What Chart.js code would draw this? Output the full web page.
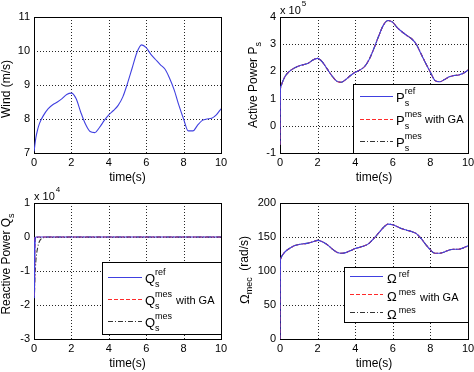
<!DOCTYPE html>
<html>
<head>
<meta charset="utf-8">
<script src="https://cdn.jsdelivr.net/npm/chart.js@4/dist/chart.umd.min.js"></script>
<style>
  html, body { margin: 0; padding: 0; background: #fff; }
  #wrap { position: relative; width: 474px; height: 372px; overflow: hidden; }
  .cell { position: absolute; width: 237px; height: 186px; }
</style>
</head>
<body>
<div id="wrap">
  <div class="cell" style="left:0;top:0"><canvas id="windChart" width="237" height="186"></canvas></div>
  <div class="cell" style="left:237px;top:0"><canvas id="powerChart" width="237" height="186"></canvas></div>
  <div class="cell" style="left:0;top:186px"><canvas id="reactiveChart" width="237" height="186"></canvas></div>
  <div class="cell" style="left:237px;top:186px"><canvas id="omegaChart" width="237" height="186"></canvas></div>
</div>
<script>
// time samples (s), finer near the start-up transient
const timeS = [0, 0.02, 0.05, 0.1, 0.2, 0.3, 0.5, 0.75, 1, 1.25, 1.5, 1.75, 2, 2.25, 2.5, 2.75, 3, 3.25, 3.5, 3.75,
  4, 4.25, 4.5, 4.75, 5, 5.25, 5.5, 5.75, 6, 6.25, 6.5, 6.75, 7, 7.25, 7.5, 7.75, 8, 8.25, 8.5, 8.75,
  9, 9.25, 9.5, 9.75, 10];

// wind speed (m/s)
const windMs = [7.05, 7.12, 7.25, 7.45, 7.7, 7.88, 8.1, 8.3, 8.42, 8.5, 8.6, 8.72, 8.76, 8.6, 8.2, 7.85, 7.63, 7.6, 7.75, 7.95,
  8.12, 8.25, 8.4, 8.65, 9.05, 9.5, 9.95, 10.18, 10.1, 9.9, 9.75, 9.6, 9.47, 9.2, 8.85, 8.4, 8.0, 7.65, 7.65, 7.82,
  7.96, 8.0, 8.02, 8.12, 8.3];

// active power (x 1e5 W), ref / with GA / mes overlap
const activePower = [-0.7, 1.3, 1.45, 1.55, 1.72, 1.85, 2.0, 2.12, 2.2, 2.25, 2.3, 2.42, 2.48, 2.35, 2.1, 1.85, 1.65, 1.6, 1.7, 1.85,
  1.97, 2.05, 2.18, 2.45, 2.85, 3.3, 3.7, 3.87, 3.8, 3.6, 3.45, 3.32, 3.2, 3.0, 2.65, 2.3, 1.97, 1.66, 1.62, 1.7,
  1.8, 1.85, 1.87, 1.93, 2.05];

// reactive power (x 1e4 VAR)
const reactiveRef = [0, -1.8, -0.35, 0, 0, 0, 0, 0, 0, 0, 0, 0, 0, 0, 0, 0, 0, 0, 0, 0,
  0, 0, 0, 0, 0, 0, 0, 0, 0, 0, 0, 0, 0, 0, 0, 0, 0, 0, 0, 0, 0, 0, 0, 0, 0];
const reactiveGa = [0, -1.75, -0.3, 0, 0, 0, 0, 0, 0, 0, 0, 0, 0, 0, 0, 0, 0, 0, 0, 0,
  0, 0, 0, 0, 0, 0, 0, 0, 0, 0, 0, 0, 0, 0, 0, 0, 0, 0, 0, 0, 0, 0, 0, 0, 0];
const reactiveMes = [0, -1.7, -1.2, -0.7, -0.3, -0.12, -0.02, 0, 0, 0, 0, 0, 0, 0, 0, 0, 0, 0, 0, 0,
  0, 0, 0, 0, 0, 0, 0, 0, 0, 0, 0, 0, 0, 0, 0, 0, 0, 0, 0, 0, 0, 0, 0, 0, 0];

// mechanical speed (rad/s), ref / with GA / mes overlap
const omegaMec = [0, 115, 119, 122, 126, 129, 133, 137, 139, 140, 141, 143, 145, 143, 139, 133, 128, 126, 127, 130,
  133, 135, 137, 141, 148, 156, 164, 169, 168, 165, 162, 160, 158, 155, 148, 139, 131, 126, 126, 128,
  131, 132, 132, 134, 137];

// tick labels
const timeTicks = [0, 2, 4, 6, 8, 10];
const windTicks = [7, 8, 9, 10, 11];
const powerTicks = [-1, 0, 1, 2, 3, 4];
const reactiveTicks = [-3, -2, -1, 0, 1];
const omegaTicks = [0, 50, 100, 150, 200];

const FONT = "'Liberation Sans', Arial, sans-serif";
const BLUE = "#4040e0";
const RED = "#ff2a2a";
const DARK = "#333333";

Chart.defaults.font.family = FONT;
Chart.defaults.color = "#000";

function pts(ys) {
  return timeS.map((t, i) => ({ x: t, y: ys[i] }));
}

// draws a run of text pieces, each {t, size, dy}
function drawRich(ctx, parts, x, y, rotated, align) {
  ctx.save();
  ctx.translate(x, y);
  if (rotated) ctx.rotate(-Math.PI / 2);
  ctx.textBaseline = "middle";
  ctx.textAlign = "left";
  ctx.fillStyle = "#000";
  let total = 0;
  parts.forEach((p) => {
    ctx.font = p.size + "px " + FONT;
    p.w = ctx.measureText(p.t).width;
    total += p.w + (p.gap || 0);
  });
  let cx = align === "left" ? 0 : -total / 2;
  parts.forEach((p) => {
    ctx.font = p.size + "px " + FONT;
    cx += p.gap || 0;
    ctx.fillText(p.t, cx, p.dy || 0);
    if (!p.stack) cx += p.w;
  });
  ctx.restore();
}

const decor = {
  id: "decor",
  beforeDatasetsDraw(chart) {
    const ctx = chart.ctx;
    const ca = chart.chartArea;
    const xs = chart.scales.x;
    const ys = chart.scales.y;
    ctx.save();
    // dotted grid
    ctx.strokeStyle = "rgba(0,0,0,0.85)";
    ctx.lineWidth = 1;
    ctx.setLineDash([1, 2]);
    ctx.beginPath();
    xs.ticks.forEach((t) => {
      const px = Math.round(xs.getPixelForValue(t.value)) + 0.5;
      ctx.moveTo(px, ca.top);
      ctx.lineTo(px, ca.bottom);
    });
    ys.ticks.forEach((t) => {
      const py = Math.round(ys.getPixelForValue(t.value)) + 0.5;
      ctx.moveTo(ca.left, py);
      ctx.lineTo(ca.right, py);
    });
    ctx.stroke();
    // frame
    ctx.strokeStyle = "#000";
    ctx.setLineDash([]);
    ctx.strokeRect(Math.round(ca.left) + 0.5, Math.round(ca.top) + 0.5,
      Math.round(ca.right - ca.left), Math.round(ca.bottom - ca.top));
    ctx.restore();
  },
  afterDraw(chart) {
    const o = chart.options.plugins.decor;
    const ctx = chart.ctx;
    const ca = chart.chartArea;

    // y title
    drawRich(ctx, o.yTitle, o.yTitleX, o.yTitleY, true);

    // exponent label
    if (o.exponent) {
      drawRich(ctx, [
        { t: "x 10", size: 11 },
        { t: o.exponent, size: 8, dy: -7, gap: 1 },
      ], ca.left, 11, false, "left");
    }

    // legend
    const lg = o.legend;
    if (!lg) return;
    ctx.save();
    ctx.fillStyle = "#fff";
    ctx.strokeStyle = "#000";
    ctx.lineWidth = 1;
    ctx.fillRect(lg.x, lg.y, lg.w, lg.h);
    ctx.strokeRect(lg.x + 0.5, lg.y + 0.5, lg.w, lg.h);
    lg.rows.forEach((r, i) => {
      const y = lg.rowY[i];
      ctx.save();
      ctx.strokeStyle = r.color;
      ctx.lineWidth = 1.2;
      ctx.setLineDash(r.dash);
      ctx.beginPath();
      ctx.moveTo(lg.lineX[0], y + 0.5);
      ctx.lineTo(lg.lineX[1], y + 0.5);
      ctx.stroke();
      ctx.restore();
      const parts = [{ t: lg.sym, size: 13, dy: lg.symDy }];
      parts.push({ t: r.sup, size: 9, dy: lg.supDy, gap: lg.supGap, stack: !!lg.sub });
      if (lg.sub) parts.push({ t: lg.sub, size: 9, dy: 8 });
      drawRich(ctx, parts, lg.symX, y, false, "left");
      if (r.extra) drawRich(ctx, [{ t: r.extra, size: 11 }], lg.extraX, y + lg.extraDy, false, "left");
    });
    ctx.restore();
  },
};

function lineSet(ys, color, dash) {
  return {
    data: pts(ys),
    borderColor: color,
    borderWidth: 1.1,
    borderDash: dash,
    pointRadius: 0,
    cubicInterpolationMode: "monotone",
    fill: false,
  };
}

function makeChart(id, c) {
  return new Chart(document.getElementById(id), {
    type: "line",
    data: { datasets: c.datasets },
    options: {
      responsive: false,
      animation: false,
      devicePixelRatio: 1,
      events: [],
      layout: { padding: { top: 17, right: c.padRight, left: 0, bottom: 0 } },
      plugins: {
        legend: { display: false },
        tooltip: { enabled: false },
        decor: c.decor,
      },
      scales: {
        x: {
          type: "linear",
          min: 0,
          max: 10,
          afterBuildTicks: (s) => { s.ticks = timeTicks.map((v) => ({ value: v })); },
          afterFit: (s) => { s.height = 33; s.paddingLeft = 0; s.paddingRight = 0; },
          ticks: { font: { size: 11 }, color: "#000", padding: 3, maxRotation: 0, autoSkip: false },
          grid: { display: false, drawTicks: false },
          border: { display: false },
          title: { display: true, text: "time(s)", font: { size: 12 }, color: "#000", padding: { top: 0, bottom: 1 } },
        },
        y: {
          type: "linear",
          min: c.yTicks[0],
          max: c.yTicks[c.yTicks.length - 1],
          afterBuildTicks: (s) => { s.ticks = c.yTicks.map((v) => ({ value: v })); },
          afterFit: (s) => { s.width = c.yWidth; s.paddingTop = 0; s.paddingBottom = 0; },
          ticks: { font: { size: 11 }, color: "#000", padding: 4, autoSkip: false },
          grid: { display: false, drawTicks: false },
          border: { display: false },
        },
      },
    },
    plugins: [decor],
  });
}

makeChart("windChart", {
  datasets: [lineSet(windMs, BLUE, [])],
  yTicks: windTicks,
  yWidth: 34,
  padRight: 16,
  decor: {
    yTitle: [{ t: "Wind (m/s)", size: 12 }],
    yTitleX: 7,
    yTitleY: 89,
  },
});

makeChart("powerChart", {
  datasets: [
    lineSet(activePower, BLUE, []),
    lineSet(activePower, RED, [4, 2]),
    lineSet(activePower, DARK, [5, 2, 1, 2]),
  ],
  yTicks: powerTicks,
  yWidth: 43,
  padRight: 6,
  decor: {
    yTitle: [{ t: "Active Power P", size: 12 }, { t: "s", size: 9, dy: 5 }],
    yTitleX: 17,
    yTitleY: 85,
    exponent: "5",
    legend: {
      x: 116, y: 84, w: 115, h: 69,
      rowY: [96, 119, 141],
      lineX: [123, 156],
      symX: 159, symDy: 2, supDy: -4, supGap: 0, sub: "s",
      extraX: 188, extraDy: 1,
      sym: "P",
      rows: [
        { color: BLUE, dash: [], sup: "ref" },
        { color: RED, dash: [4, 2], sup: "mes", extra: "with GA" },
        { color: DARK, dash: [5, 2, 1, 2], sup: "mes" },
      ],
    },
  },
});

makeChart("reactiveChart", {
  datasets: [
    lineSet(reactiveRef, BLUE, []),
    lineSet(reactiveGa, RED, [4, 2]),
    lineSet(reactiveMes, DARK, [5, 2, 1, 2]),
  ],
  yTicks: reactiveTicks,
  yWidth: 34,
  padRight: 16,
  decor: {
    yTitle: [{ t: "Reactive Power Q", size: 12 }, { t: "s", size: 9, dy: 5 }],
    yTitleX: 7,
    yTitleY: 78,
    exponent: "4",
    legend: {
      x: 102, y: 76, w: 119, h: 72,
      rowY: [91, 113, 135],
      lineX: [108, 142],
      symX: 145, symDy: 2, supDy: -4, supGap: 0, sub: "s",
      extraX: 176, extraDy: 2,
      sym: "Q",
      rows: [
        { color: BLUE, dash: [], sup: "ref" },
        { color: RED, dash: [4, 2], sup: "mes", extra: "with GA" },
        { color: DARK, dash: [5, 2, 1, 2], sup: "mes" },
      ],
    },
  },
});

makeChart("omegaChart", {
  datasets: [
    lineSet(omegaMec, BLUE, []),
    lineSet(omegaMec, RED, [4, 2]),
    lineSet(omegaMec, DARK, [5, 2, 1, 2]),
  ],
  yTicks: omegaTicks,
  yWidth: 43,
  padRight: 6,
  decor: {
    yTitle: [{ t: "\u03A9", size: 13 }, { t: "mec", size: 9, dy: 5 }, { t: "  (rad/s)", size: 12 }],
    yTitleX: 8,
    yTitleY: 84,
    legend: {
      x: 107, y: 81, w: 124, h: 55,
      rowY: [90, 108, 126],
      lineX: [113, 146],
      symX: 150, symDy: 3, supDy: -1, supGap: 2, sub: null,
      extraX: 183, extraDy: 4,
      sym: "\u03A9",
      rows: [
        { color: BLUE, dash: [], sup: "ref" },
        { color: RED, dash: [4, 2], sup: "mes", extra: "with GA" },
        { color: DARK, dash: [5, 2, 1, 2], sup: "mes" },
      ],
    },
  },
});
</script>
</body>
</html>
